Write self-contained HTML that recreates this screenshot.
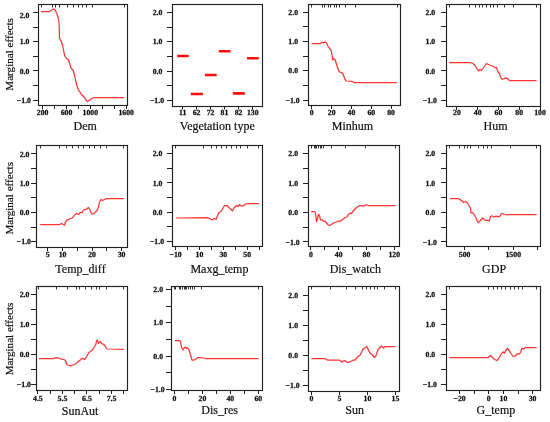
<!DOCTYPE html>
<html><head><meta charset="utf-8"><title>Marginal effects</title>
<style>
html,body{margin:0;padding:0;background:#fff;}
body{width:550px;height:422px;overflow:hidden;}
svg{display:block;filter:blur(0.3px);}
.t{font-family:"Liberation Serif","Times New Roman",serif;font-weight:bold;font-size:7.8px;fill:#111;stroke:#111;stroke-width:0.25px;text-rendering:geometricPrecision;}
.l{font-family:"Liberation Serif","Times New Roman",serif;font-size:12px;fill:#111;stroke:#111;stroke-width:0.2px;}
.yl{font-family:"Liberation Serif","Times New Roman",serif;font-size:11.1px;fill:#111;stroke:#111;stroke-width:0.2px;}
</style></head><body>
<svg width="550" height="422" viewBox="0 0 550 422">
<rect width="550" height="422" fill="#fff"/>
<g>
<rect x="38.5" y="4.5" width="89" height="101" fill="none" stroke="#222" stroke-width="1.15"/>
<path d="M33 12.5H38.5M33 27.5H38.5M33 41.5H38.5M33 56.5H38.5M33 70.5H38.5M33 85.5H38.5M33 100.5H38.5" stroke="#222" stroke-width="1.1" fill="none"/>
<text class="t" transform="translate(24.5 18) scale(1 1)" text-anchor="middle">2.0</text>
<text class="t" transform="translate(24.5 44.3) scale(1 1)" text-anchor="middle">1.0</text>
<text class="t" transform="translate(24.5 73.5) scale(1 1)" text-anchor="middle">0.0</text>
<text class="t" transform="translate(23.9 102.7) scale(1 1)" text-anchor="middle">−1.0</text>
<path d="M42.5 105.5V109M54.5 105.5V109M66.5 105.5V109M78.5 105.5V109M90.5 105.5V109M102.5 105.5V109M114.5 105.5V109M126.5 105.5V109" stroke="#222" stroke-width="1" fill="none"/>
<text class="t" transform="translate(42.6 115.2) scale(1 1)" text-anchor="middle">200</text>
<text class="t" transform="translate(66.49 115.2) scale(1 1)" text-anchor="middle">600</text>
<text class="t" transform="translate(90.37 115.2) scale(1 1)" text-anchor="middle">1000</text>
<text class="t" transform="translate(126.2 115.2) scale(1 1)" text-anchor="middle">1600</text>
<path d="M41.5 4.5V7.5M52.5 4.5V7.5M55.5 4.5V7.5M59.5 4.5V7.5M67.5 4.5V7.5M73.5 4.5V7.5M78.5 4.5V7.5M82.5 4.5V7.5M86.5 4.5V7.5M92.5 4.5V7.5M124.5 4.5V7.5" stroke="#222" stroke-width="0.9" fill="none"/>
<text class="l" x="85.2" y="129.9" text-anchor="middle">Dem</text>
<text class="yl" transform="translate(12.6 54.4) rotate(-90)" x="0" y="0" text-anchor="middle">Marginal effects</text>
<polyline points="41,11.5 49,11.5 50,11.2 53.5,8.8 55,9.8 56.5,13 58,17 59,22 59.3,30 59.5,38 61.5,42 62.5,45 63.5,50 64.8,56 66.5,58.5 68.5,60 69.5,63 71,68 73.2,70.5 74.5,75 75.5,80 77,86 78.5,90 80,92 81.5,94.5 83,96 84.5,97.5 86,100 87.5,101.5 89,100.5 91,99 94,97.5 124,97.5" fill="none" stroke="#ff3333" stroke-width="1.25" stroke-linejoin="round"/>
</g>
<g>
<rect x="172.5" y="4.5" width="90" height="102" fill="none" stroke="#222" stroke-width="1.15"/>
<path d="M167 12.5H172.5M167 27.5H172.5M167 41.5H172.5M167 56.5H172.5M167 71.5H172.5M167 85.5H172.5M167 100.5H172.5" stroke="#222" stroke-width="1.1" fill="none"/>
<text class="t" transform="translate(157.6 15) scale(1 1)" text-anchor="middle">2.0</text>
<text class="t" transform="translate(157.6 44.37) scale(1 1)" text-anchor="middle">1.0</text>
<text class="t" transform="translate(157.6 73.73) scale(1 1)" text-anchor="middle">0.0</text>
<text class="t" transform="translate(157 103.1) scale(1 1)" text-anchor="middle">−1.0</text>
<path d="M182.5 106.5V109.5M196.5 106.5V109.5M210.5 106.5V109.5M224.5 106.5V109.5M238.5 106.5V109.5M252.5 106.5V109.5" stroke="#222" stroke-width="1" fill="none"/>
<text class="t" transform="translate(182.6 115.2) scale(1 1)" text-anchor="middle">11</text>
<text class="t" transform="translate(196.6 115.2) scale(1 1)" text-anchor="middle">62</text>
<text class="t" transform="translate(210.6 115.2) scale(1 1)" text-anchor="middle">72</text>
<text class="t" transform="translate(224.5 115.2) scale(1 1)" text-anchor="middle">81</text>
<text class="t" transform="translate(238.6 115.2) scale(1 1)" text-anchor="middle">82</text>
<text class="t" transform="translate(252.8 115.2) scale(1 1)" text-anchor="middle">130</text>
<text class="l" x="217.3" y="129.9" text-anchor="middle">Vegetation type</text>
<path d="M177.2 56H188.8M190.8 94H202.9M205 75H216.7M218.8 51.3H230.6M232.8 93.4H244.8M247 58.3H258.8" stroke="#ff1010" stroke-width="2.6" fill="none"/>
<path d="M182.4 56H183.6M196.25 94H197.45M210.25 75H211.45M224.1 51.3H225.3M238.2 93.4H239.4M252.3 58.3H253.5" stroke="#c00000" stroke-width="1.4" fill="none"/>
</g>
<g>
<rect x="308.5" y="4.5" width="92" height="101" fill="none" stroke="#222" stroke-width="1.15"/>
<path d="M303 12.5H308.5M303 26.5H308.5M303 41.5H308.5M303 56.5H308.5M303 70.5H308.5M303 85.5H308.5M303 100.5H308.5" stroke="#222" stroke-width="1.1" fill="none"/>
<text class="t" transform="translate(293.2 14.7) scale(1 1)" text-anchor="middle">2.0</text>
<text class="t" transform="translate(293.2 44.03) scale(1 1)" text-anchor="middle">1.0</text>
<text class="t" transform="translate(293.2 73.37) scale(1 1)" text-anchor="middle">0.0</text>
<text class="t" transform="translate(292.6 102.7) scale(1 1)" text-anchor="middle">−1.0</text>
<path d="M311.5 105.5V109M331.5 105.5V109M351.5 105.5V109M371.5 105.5V109M391.5 105.5V109" stroke="#222" stroke-width="1" fill="none"/>
<text class="t" transform="translate(311.8 115.2) scale(1 1)" text-anchor="middle">0</text>
<text class="t" transform="translate(331.62 115.2) scale(1 1)" text-anchor="middle">20</text>
<text class="t" transform="translate(351.45 115.2) scale(1 1)" text-anchor="middle">40</text>
<text class="t" transform="translate(371.28 115.2) scale(1 1)" text-anchor="middle">60</text>
<text class="t" transform="translate(391.1 115.2) scale(1 1)" text-anchor="middle">80</text>
<path d="M311.5 4.5V7.5M322.5 4.5V7.5M324.5 4.5V7.5M328.5 4.5V7.5M330.5 4.5V7.5M334.5 4.5V7.5M336.5 4.5V7.5M339.5 4.5V7.5M345.5 4.5V7.5M355.5 4.5V7.5M397.5 4.5V7.5" stroke="#222" stroke-width="0.9" fill="none"/>
<text class="l" x="352.4" y="129.9" text-anchor="middle">Minhum</text>
<polyline points="311.8,43.5 320.5,43.5 322,42.3 323.5,43 325,41.8 326.5,43 328,46 329.5,48.5 331.2,50.5 332,55 332.8,60 334.2,58.8 335.2,60 337.2,66.5 339.3,71.8 341.5,72.5 343,74 344.5,78 346,81 352,81.3 354,82.5 396.8,82.5" fill="none" stroke="#ff3333" stroke-width="1.25" stroke-linejoin="round"/>
</g>
<g>
<rect x="446.5" y="4.5" width="94" height="102" fill="none" stroke="#222" stroke-width="1.15"/>
<path d="M441 12.5H446.5M441 26.5H446.5M441 41.5H446.5M441 56.5H446.5M441 70.5H446.5M441 85.5H446.5M441 100.5H446.5" stroke="#222" stroke-width="1.1" fill="none"/>
<text class="t" transform="translate(430.4 14.8) scale(1 1)" text-anchor="middle">2.0</text>
<text class="t" transform="translate(430.4 44.2) scale(1 1)" text-anchor="middle">1.0</text>
<text class="t" transform="translate(430.4 73.6) scale(1 1)" text-anchor="middle">0.0</text>
<text class="t" transform="translate(429.8 103) scale(1 1)" text-anchor="middle">−1.0</text>
<path d="M456.5 106.5V110M477.5 106.5V110M498.5 106.5V110M519.5 106.5V110M540.5 106.5V110" stroke="#222" stroke-width="1" fill="none"/>
<text class="t" transform="translate(457 115.2) scale(1 1)" text-anchor="middle">20</text>
<text class="t" transform="translate(477.75 115.2) scale(1 1)" text-anchor="middle">40</text>
<text class="t" transform="translate(498.5 115.2) scale(1 1)" text-anchor="middle">60</text>
<text class="t" transform="translate(519.25 115.2) scale(1 1)" text-anchor="middle">80</text>
<text class="t" transform="translate(540 115.2) scale(1 1)" text-anchor="middle">100</text>
<path d="M449.5 4.5V7.5M469.5 4.5V7.5M475.5 4.5V7.5M479.5 4.5V7.5M482.5 4.5V7.5M486.5 4.5V7.5M490.5 4.5V7.5M493.5 4.5V7.5M497.5 4.5V7.5M504.5 4.5V7.5M513.5 4.5V7.5M536.5 4.5V7.5" stroke="#222" stroke-width="0.9" fill="none"/>
<text class="l" x="495.5" y="129.9" text-anchor="middle">Hum</text>
<polyline points="449.2,62.5 468.5,62.5 471,62.8 473.5,64 475.5,66 477,68.5 478.5,71 480,69.5 481.5,70.5 484,67 486.5,63.5 488.5,64.5 490.5,65.5 493,66.2 495,67.5 496.5,67.5 498,72 499.5,73.5 500.5,77 501.8,79.2 503.5,78.8 506,77.8 507.5,78.8 509.5,80.5 536.5,80.5" fill="none" stroke="#ff3333" stroke-width="1.25" stroke-linejoin="round"/>
</g>
<g>
<rect x="36.5" y="145.5" width="91" height="102" fill="none" stroke="#222" stroke-width="1.15"/>
<path d="M31 153.5H36.5M31 168.5H36.5M31 183.5H36.5M31 197.5H36.5M31 212.5H36.5M31 227.5H36.5M31 241.5H36.5" stroke="#222" stroke-width="1.1" fill="none"/>
<text class="t" transform="translate(24.5 156.5) scale(1 1)" text-anchor="middle">2.0</text>
<text class="t" transform="translate(24.5 185.77) scale(1 1)" text-anchor="middle">1.0</text>
<text class="t" transform="translate(24.5 215.03) scale(1 1)" text-anchor="middle">0.0</text>
<text class="t" transform="translate(23.9 244.3) scale(1 1)" text-anchor="middle">−1.0</text>
<path d="M47.5 247.5V251M62.5 247.5V251M77.5 247.5V251M92.5 247.5V251M106.5 247.5V251M121.5 247.5V251" stroke="#222" stroke-width="1" fill="none"/>
<text class="t" transform="translate(47.8 257.2) scale(1 1)" text-anchor="middle">5</text>
<text class="t" transform="translate(62.56 257.2) scale(1 1)" text-anchor="middle">10</text>
<text class="t" transform="translate(92.08 257.2) scale(1 1)" text-anchor="middle">20</text>
<text class="t" transform="translate(121.6 257.2) scale(1 1)" text-anchor="middle">30</text>
<path d="M40.5 145.5V148.5M59.5 145.5V148.5M66.5 145.5V148.5M72.5 145.5V148.5M78.5 145.5V148.5M83.5 145.5V148.5M89.5 145.5V148.5M94.5 145.5V148.5M100.5 145.5V148.5M106.5 145.5V148.5M123.5 145.5V148.5" stroke="#222" stroke-width="0.9" fill="none"/>
<text class="l" x="80.5" y="273" text-anchor="middle">Temp_diff</text>
<text class="yl" transform="translate(12.6 198.3) rotate(-90)" x="0" y="0" text-anchor="middle">Marginal effects</text>
<polyline points="40.2,224.5 59.5,224.5 61.5,223.5 63,224.5 64.5,225.3 65.5,222 67,220 69,219.3 70.5,218.5 72,218.2 73.2,216.8 74.5,215 76.5,213.5 78.5,214.5 80,212.6 82,212.6 83.5,210 85.5,209.3 87,208.8 88.5,207.5 90,210 91.5,213.8 93,214 95,212.5 97,210.5 98.5,207 99.5,202 101,199.5 102.5,200.5 104.5,199.5 106.5,198.5 124,198.5" fill="none" stroke="#ff3333" stroke-width="1.25" stroke-linejoin="round"/>
</g>
<g>
<rect x="172.5" y="145.5" width="90" height="101" fill="none" stroke="#222" stroke-width="1.15"/>
<path d="M167 153.5H172.5M167 168.5H172.5M167 182.5H172.5M167 197.5H172.5M167 212.5H172.5M167 226.5H172.5M167 241.5H172.5" stroke="#222" stroke-width="1.1" fill="none"/>
<text class="t" transform="translate(157.6 156.3) scale(1 1)" text-anchor="middle">2.0</text>
<text class="t" transform="translate(157.6 185.53) scale(1 1)" text-anchor="middle">1.0</text>
<text class="t" transform="translate(157.6 214.77) scale(1 1)" text-anchor="middle">0.0</text>
<text class="t" transform="translate(157 244) scale(1 1)" text-anchor="middle">−1.0</text>
<path d="M175.5 246.5V250M187.5 246.5V250M199.5 246.5V250M211.5 246.5V250M223.5 246.5V250M235.5 246.5V250M247.5 246.5V250M259.5 246.5V250" stroke="#222" stroke-width="1" fill="none"/>
<text class="t" transform="translate(175.6 257.2) scale(1 1)" text-anchor="middle">−10</text>
<text class="t" transform="translate(199.46 257.2) scale(1 1)" text-anchor="middle">10</text>
<text class="t" transform="translate(223.31 257.2) scale(1 1)" text-anchor="middle">30</text>
<text class="t" transform="translate(247.17 257.2) scale(1 1)" text-anchor="middle">50</text>
<path d="M175.5 145.5V148.5M203.5 145.5V148.5M211.5 145.5V148.5M216.5 145.5V148.5M221.5 145.5V148.5M226.5 145.5V148.5M231.5 145.5V148.5M236.5 145.5V148.5M240.5 145.5V148.5M247.5 145.5V148.5M258.5 145.5V148.5" stroke="#222" stroke-width="0.9" fill="none"/>
<text class="l" x="219.4" y="273" text-anchor="middle">Maxg_temp</text>
<polyline points="176,218 207.5,217.7 209.5,218.5 212,219.8 214,218.5 216,219.5 217.5,215.8 219,212.5 221.5,211 223,208 224.5,205.5 226,206 227,205.5 229,207.5 232.5,210.8 234,208 236.5,205.5 238,206.5 239.5,204.5 241,206 243,206.2 245.5,204 247.5,203.5 259,203.5" fill="none" stroke="#ff3333" stroke-width="1.25" stroke-linejoin="round"/>
</g>
<g>
<rect x="308.5" y="145.5" width="91" height="101" fill="none" stroke="#222" stroke-width="1.15"/>
<path d="M303 153.5H308.5M303 168.5H308.5M303 183.5H308.5M303 197.5H308.5M303 212.5H308.5M303 227.5H308.5M303 241.5H308.5" stroke="#222" stroke-width="1.1" fill="none"/>
<text class="t" transform="translate(293.2 156.3) scale(1 1)" text-anchor="middle">2.0</text>
<text class="t" transform="translate(293.2 185.7) scale(1 1)" text-anchor="middle">1.0</text>
<text class="t" transform="translate(293.2 215.1) scale(1 1)" text-anchor="middle">0.0</text>
<text class="t" transform="translate(292.6 244.5) scale(1 1)" text-anchor="middle">−1.0</text>
<path d="M310.5 246.5V250M324.5 246.5V250M338.5 246.5V250M352.5 246.5V250M366.5 246.5V250M380.5 246.5V250M394.5 246.5V250" stroke="#222" stroke-width="1" fill="none"/>
<text class="t" transform="translate(310.9 257.2) scale(1 1)" text-anchor="middle">0</text>
<text class="t" transform="translate(338.7 257.2) scale(1 1)" text-anchor="middle">40</text>
<text class="t" transform="translate(366.5 257.2) scale(1 1)" text-anchor="middle">80</text>
<text class="t" transform="translate(394.3 257.2) scale(1 1)" text-anchor="middle">120</text>
<path d="M311.5 145.5V148.5M314.5 145.5V148.5M315.5 145.5V148.5M316.5 145.5V148.5M318.5 145.5V148.5M320.5 145.5V148.5M321.5 145.5V148.5M323.5 145.5V148.5M331.5 145.5V148.5M345.5 145.5V148.5M365.5 145.5V148.5M395.5 145.5V148.5" stroke="#222" stroke-width="0.9" fill="none"/>
<text class="l" x="355.3" y="273" text-anchor="middle">Dis_watch</text>
<polyline points="311.2,211.5 314.5,211.5 315.5,213 316.5,221.8 317.5,218.5 318.5,214.5 319.5,215.5 320.5,220 322,219.8 323.5,221.2 325,221 326.5,223 328,224.8 329.5,225.5 332,224 334.5,222.5 336.5,222 338.5,221.2 340.5,221.2 342.5,219.5 345,217.5 347,217 348,214.8 350,213.2 351.5,213.3 354,210 357,207.2 359.5,205.5 362,205.5 363.5,206.2 365,205.3 366.5,204.8 368,205.5 395.5,205.5" fill="none" stroke="#ff3333" stroke-width="1.25" stroke-linejoin="round"/>
</g>
<g>
<rect x="446.5" y="145.5" width="94" height="101" fill="none" stroke="#222" stroke-width="1.15"/>
<path d="M441 153.5H446.5M441 168.5H446.5M441 182.5H446.5M441 197.5H446.5M441 212.5H446.5M441 227.5H446.5M441 241.5H446.5" stroke="#222" stroke-width="1.1" fill="none"/>
<text class="t" transform="translate(430.4 156.1) scale(1 1)" text-anchor="middle">2.0</text>
<text class="t" transform="translate(430.4 185.57) scale(1 1)" text-anchor="middle">1.0</text>
<text class="t" transform="translate(430.4 215.03) scale(1 1)" text-anchor="middle">0.0</text>
<text class="t" transform="translate(429.8 244.5) scale(1 1)" text-anchor="middle">−1.0</text>
<path d="M464.5 246.5V250M488.5 246.5V250M513.5 246.5V250M537.5 246.5V250" stroke="#222" stroke-width="1" fill="none"/>
<text class="t" transform="translate(464.6 257.2) scale(1 1)" text-anchor="middle">500</text>
<text class="t" transform="translate(513.27 257.2) scale(1 1)" text-anchor="middle">1500</text>
<path d="M449.5 145.5V148.5M459.5 145.5V148.5M464.5 145.5V148.5M467.5 145.5V148.5M470.5 145.5V148.5M478.5 145.5V148.5M483.5 145.5V148.5M487.5 145.5V148.5M491.5 145.5V148.5M510.5 145.5V148.5M536.5 145.5V148.5" stroke="#222" stroke-width="0.9" fill="none"/>
<text class="l" x="494.1" y="273" text-anchor="middle">GDP</text>
<polyline points="450,198.5 458,198.5 460.5,199.8 463.5,202.5 465,201.7 467,202.5 469,205.5 470.5,208.5 471,213 472.2,212.5 473.5,213.5 475.5,217 477,220.5 478,222.5 480,221 482.5,218 484.5,219.8 486,220.5 488,220.2 489.2,221 490.5,216.5 492,215.8 494,217 496,216.2 499.5,216.8 501,214 502.5,213.5 504.5,214.5 507,214.8 510,214.5 536.5,214.5" fill="none" stroke="#ff3333" stroke-width="1.25" stroke-linejoin="round"/>
</g>
<g>
<rect x="36.5" y="286.5" width="91" height="104" fill="none" stroke="#222" stroke-width="1.15"/>
<path d="M31 294.5H36.5M31 309.5H36.5M31 324.5H36.5M31 339.5H36.5M31 354.5H36.5M31 369.5H36.5M31 384.5H36.5" stroke="#222" stroke-width="1.1" fill="none"/>
<text class="t" transform="translate(24.5 297.4) scale(1 1)" text-anchor="middle">2.0</text>
<text class="t" transform="translate(24.5 327.13) scale(1 1)" text-anchor="middle">1.0</text>
<text class="t" transform="translate(24.5 356.87) scale(1 1)" text-anchor="middle">0.0</text>
<text class="t" transform="translate(23.9 386.6) scale(1 1)" text-anchor="middle">−1.0</text>
<path d="M37.5 390.5V394M50.5 390.5V394M62.5 390.5V394M74.5 390.5V394M86.5 390.5V394M99.5 390.5V394M111.5 390.5V394M123.5 390.5V394" stroke="#222" stroke-width="1" fill="none"/>
<text class="t" transform="translate(37.9 400.9) scale(1 1)" text-anchor="middle">4.5</text>
<text class="t" transform="translate(62.44 400.9) scale(1 1)" text-anchor="middle">5.5</text>
<text class="t" transform="translate(86.99 400.9) scale(1 1)" text-anchor="middle">6.5</text>
<text class="t" transform="translate(111.53 400.9) scale(1 1)" text-anchor="middle">7.5</text>
<path d="M38.5 286.5V289.5M56.5 286.5V289.5M67.5 286.5V289.5M76.5 286.5V289.5M79.5 286.5V289.5M85.5 286.5V289.5M91.5 286.5V289.5M96.5 286.5V289.5M99.5 286.5V289.5M106.5 286.5V289.5M123.5 286.5V289.5" stroke="#222" stroke-width="0.9" fill="none"/>
<text class="l" x="80.1" y="415.3" text-anchor="middle">SunAut</text>
<text class="yl" transform="translate(12.6 339) rotate(-90)" x="0" y="0" text-anchor="middle">Marginal effects</text>
<polyline points="39,358.5 54,358.5 55.5,357.7 59.5,358.2 61.5,359.2 64,359.5 65.5,360.5 66.5,364 68,365 70.5,365.8 73,365 76,364 77,362.5 80,360.3 82,358.3 84.5,359.4 86.5,356.8 89,352.5 91.5,350.8 93,349 94.5,346.5 95.8,344.5 96.5,341 97.2,340 98,341.5 98.5,343.5 99.5,342 100.5,341.5 101.5,343.8 103,343.8 105,346 107,349 124,349.3" fill="none" stroke="#ff3333" stroke-width="1.25" stroke-linejoin="round"/>
</g>
<g>
<rect x="171.5" y="286.5" width="91" height="104" fill="none" stroke="#222" stroke-width="1.15"/>
<path d="M166 289.5H171.5M166 306.5H171.5M166 322.5H171.5M166 339.5H171.5M166 356.5H171.5M166 372.5H171.5M166 389.5H171.5" stroke="#222" stroke-width="1.1" fill="none"/>
<text class="t" transform="translate(158.2 292.2) scale(1 1)" text-anchor="middle">2.0</text>
<text class="t" transform="translate(158.2 325.43) scale(1 1)" text-anchor="middle">1.0</text>
<text class="t" transform="translate(158.2 358.67) scale(1 1)" text-anchor="middle">0.0</text>
<text class="t" transform="translate(157.6 391.9) scale(1 1)" text-anchor="middle">−1.0</text>
<path d="M174.5 390.5V394M188.5 390.5V394M202.5 390.5V394M216.5 390.5V394M230.5 390.5V394M244.5 390.5V394M258.5 390.5V394" stroke="#222" stroke-width="1" fill="none"/>
<text class="t" transform="translate(174.4 400.9) scale(1 1)" text-anchor="middle">0</text>
<text class="t" transform="translate(202.37 400.9) scale(1 1)" text-anchor="middle">20</text>
<text class="t" transform="translate(230.33 400.9) scale(1 1)" text-anchor="middle">40</text>
<text class="t" transform="translate(258.3 400.9) scale(1 1)" text-anchor="middle">60</text>
<path d="M174.5 286.5V289.5M175.5 286.5V289.5M179.5 286.5V289.5M180.5 286.5V289.5M182.5 286.5V289.5M184.5 286.5V289.5M185.5 286.5V289.5M186.5 286.5V289.5M188.5 286.5V289.5M190.5 286.5V289.5M192.5 286.5V289.5M194.5 286.5V289.5M201.5 286.5V289.5M258.5 286.5V289.5" stroke="#222" stroke-width="0.9" fill="none"/>
<text class="l" x="219.6" y="413.6" text-anchor="middle">Dis_res</text>
<polyline points="174.8,340.5 179.5,340.5 180.5,341.5 181.5,347.5 183,350 184.5,347.5 185.8,347.2 186.5,348.5 187.5,347.8 189,350 190.5,355 192,360 194,360 196,359 198,357.5 201,357.5 205,358.5 258.5,358.5" fill="none" stroke="#ff3333" stroke-width="1.25" stroke-linejoin="round"/>
</g>
<g>
<rect x="308.5" y="286.5" width="91" height="105" fill="none" stroke="#222" stroke-width="1.15"/>
<path d="M303 295.5H308.5M303 310.5H308.5M303 325.5H308.5M303 340.5H308.5M303 355.5H308.5M303 370.5H308.5M303 385.5H308.5" stroke="#222" stroke-width="1.1" fill="none"/>
<text class="t" transform="translate(293.2 297.8) scale(1 1)" text-anchor="middle">2.0</text>
<text class="t" transform="translate(293.2 327.87) scale(1 1)" text-anchor="middle">1.0</text>
<text class="t" transform="translate(293.2 357.93) scale(1 1)" text-anchor="middle">0.0</text>
<text class="t" transform="translate(292.6 388) scale(1 1)" text-anchor="middle">−1.0</text>
<path d="M311.5 391.5V395M339.5 391.5V395M367.5 391.5V395M395.5 391.5V395" stroke="#222" stroke-width="1" fill="none"/>
<text class="t" transform="translate(311.4 400.9) scale(1 1)" text-anchor="middle">0</text>
<text class="t" transform="translate(339.43 400.9) scale(1 1)" text-anchor="middle">5</text>
<text class="t" transform="translate(367.47 400.9) scale(1 1)" text-anchor="middle">10</text>
<text class="t" transform="translate(395.5 400.9) scale(1 1)" text-anchor="middle">15</text>
<path d="M311.5 286.5V289.5M330.5 286.5V289.5M346.5 286.5V289.5M355.5 286.5V289.5M362.5 286.5V289.5M366.5 286.5V289.5M370.5 286.5V289.5M374.5 286.5V289.5M377.5 286.5V289.5M384.5 286.5V289.5M395.5 286.5V289.5" stroke="#222" stroke-width="0.9" fill="none"/>
<text class="l" x="354.6" y="413.6" text-anchor="middle">Sun</text>
<polyline points="311.5,358.5 324.5,358.5 327.5,360 339,360 340.5,360.8 342,362.2 343.5,360.8 345,360.5 347,362.3 349,362.2 351,361.5 353.2,360 355,360.2 358,356.5 360,355.2 361.5,352.5 363,349 365,347.8 366.8,346.5 368,349 370,353 372,354.5 374.5,357.5 376,355.5 378,349.8 379.5,348 381.5,346 383.5,348.2 385,346.5 395.5,346.5" fill="none" stroke="#ff3333" stroke-width="1.25" stroke-linejoin="round"/>
</g>
<g>
<rect x="446.5" y="286.5" width="94" height="104" fill="none" stroke="#222" stroke-width="1.15"/>
<path d="M441 294.5H446.5M441 309.5H446.5M441 324.5H446.5M441 339.5H446.5M441 354.5H446.5M441 369.5H446.5M441 384.5H446.5" stroke="#222" stroke-width="1.1" fill="none"/>
<text class="t" transform="translate(430.4 297.3) scale(1 1)" text-anchor="middle">2.0</text>
<text class="t" transform="translate(430.4 327.27) scale(1 1)" text-anchor="middle">1.0</text>
<text class="t" transform="translate(430.4 357.23) scale(1 1)" text-anchor="middle">0.0</text>
<text class="t" transform="translate(429.8 387.2) scale(1 1)" text-anchor="middle">−1.0</text>
<path d="M459.5 390.5V394M474.5 390.5V394M488.5 390.5V394M503.5 390.5V394M518.5 390.5V394M532.5 390.5V394" stroke="#222" stroke-width="1" fill="none"/>
<text class="t" transform="translate(459.6 400.9) scale(1 1)" text-anchor="middle">−20</text>
<text class="t" transform="translate(488.8 400.9) scale(1 1)" text-anchor="middle">0</text>
<text class="t" transform="translate(503.4 400.9) scale(1 1)" text-anchor="middle">10</text>
<text class="t" transform="translate(532.6 400.9) scale(1 1)" text-anchor="middle">30</text>
<path d="M449.5 286.5V289.5M488.5 286.5V289.5M493.5 286.5V289.5M497.5 286.5V289.5M501.5 286.5V289.5M505.5 286.5V289.5M510.5 286.5V289.5M514.5 286.5V289.5M518.5 286.5V289.5M522.5 286.5V289.5M536.5 286.5V289.5" stroke="#222" stroke-width="0.9" fill="none"/>
<text class="l" x="495.9" y="413.6" text-anchor="middle">G_temp</text>
<polyline points="449.4,357.5 488,357.5 490.5,355.5 492.5,357.5 494.5,359.5 497,360.5 498.5,359 501,354.5 503,351.8 504.5,353.2 505.5,351 507.5,348.5 509.5,351 511,353.5 513,356.5 515,356.2 517.5,353.7 519.5,354 520.5,352.5 522,348.2 523.5,349 525.5,347.5 536.6,347.5" fill="none" stroke="#ff3333" stroke-width="1.25" stroke-linejoin="round"/>
</g>
</svg>
</body></html>
